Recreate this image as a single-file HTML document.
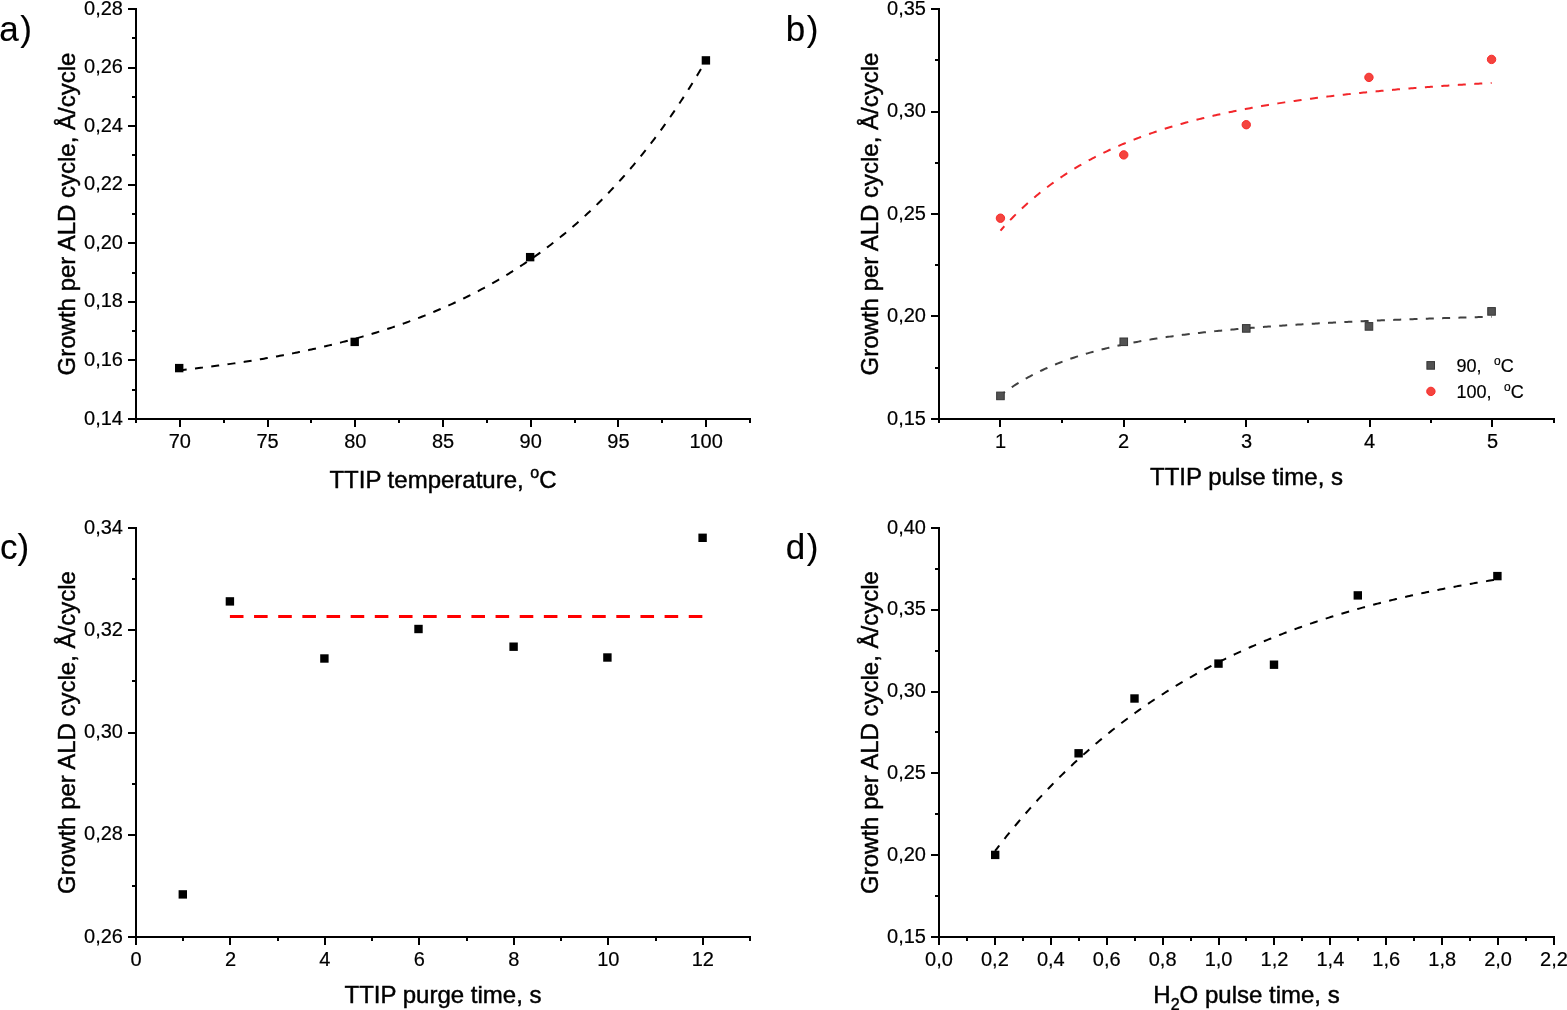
<!DOCTYPE html>
<html><head><meta charset="utf-8"><title>Growth per ALD cycle</title>
<style>
html,body{margin:0;padding:0;background:#fff;}
body{width:1567px;height:1010px;overflow:hidden;}
svg{display:block;}
text{font-family:'Liberation Sans', Arial, Helvetica, sans-serif;fill:#000;stroke:#000;stroke-width:0.2px;}
.tk{font-size:20px;}
.tt{font-size:24px;stroke-width:0.45px;}
.lg{font-size:18px;}
.pl{font-size:35px;stroke-width:0.15px;}
</style></head><body>
<svg width="1567" height="1010" viewBox="0 0 1567 1010">
<rect width="1567" height="1010" fill="#fff"/>
<path d="M136 8V420M135 419H751M128 419H136M128 360H136M128 302H136M128 243H136M128 185H136M128 126H136M128 68H136M128 9H136M132 390H136M132 331H136M132 273H136M132 214H136M132 155H136M132 97H136M132 38H136M180 419V427M268 419V427M355 419V427M443 419V427M531 419V427M618 419V427M706 419V427M136 419V423M224 419V423M311 419V423M399 419V423M487 419V423M575 419V423M662 419V423M750 419V423" stroke="#000" stroke-width="2" fill="none" shape-rendering="crispEdges"/>
<text x="123.00" y="424.60" text-anchor="end" class="tk">0,14</text>
<text x="123.00" y="366.03" text-anchor="end" class="tk">0,16</text>
<text x="123.00" y="307.46" text-anchor="end" class="tk">0,18</text>
<text x="123.00" y="248.89" text-anchor="end" class="tk">0,20</text>
<text x="123.00" y="190.31" text-anchor="end" class="tk">0,22</text>
<text x="123.00" y="131.74" text-anchor="end" class="tk">0,24</text>
<text x="123.00" y="73.17" text-anchor="end" class="tk">0,26</text>
<text x="123.00" y="14.60" text-anchor="end" class="tk">0,28</text>
<text x="179.86" y="447.80" text-anchor="middle" class="tk">70</text>
<text x="267.57" y="447.80" text-anchor="middle" class="tk">75</text>
<text x="355.29" y="447.80" text-anchor="middle" class="tk">80</text>
<text x="443.00" y="447.80" text-anchor="middle" class="tk">85</text>
<text x="530.71" y="447.80" text-anchor="middle" class="tk">90</text>
<text x="618.43" y="447.80" text-anchor="middle" class="tk">95</text>
<text x="706.14" y="447.80" text-anchor="middle" class="tk">100</text>
<text transform="translate(74.60 214.00) rotate(-90)" text-anchor="middle" class="tt">Growth per ALD cycle, Å/cycle</text>
<text x="443.00" y="487.7" text-anchor="middle" class="tt">TTIP temperature, <tspan font-size="16" dy="-10">o</tspan><tspan dy="10">C</tspan></text>
<polyline points="179.45,370.29 181.21,370.10 182.97,369.91 184.73,369.71 186.49,369.51 188.25,369.31 190.01,369.10 191.77,368.90 193.53,368.69 195.29,368.48 197.05,368.27 198.81,368.06 200.57,367.85 202.33,367.63 204.09,367.41 205.85,367.19 207.61,366.97 209.37,366.75 211.13,366.52 212.89,366.29 214.65,366.06 216.41,365.83 218.17,365.59 219.93,365.35 221.69,365.11 223.45,364.87 225.21,364.63 226.97,364.38 228.73,364.13 230.49,363.88 232.25,363.63 234.01,363.37 235.77,363.12 237.53,362.86 239.29,362.59 241.05,362.33 242.81,362.06 244.57,361.79 246.32,361.52 248.08,361.24 249.84,360.97 251.60,360.69 253.36,360.40 255.12,360.12 256.88,359.83 258.64,359.54 260.40,359.24 262.16,358.95 263.92,358.65 265.68,358.35 267.44,358.04 269.20,357.74 270.96,357.43 272.72,357.11 274.48,356.80 276.24,356.48 278.00,356.16 279.76,355.83 281.52,355.50 283.28,355.17 285.04,354.84 286.80,354.50 288.56,354.16 290.32,353.82 292.08,353.47 293.84,353.12 295.60,352.77 297.36,352.41 299.12,352.05 300.88,351.69 302.64,351.32 304.40,350.95 306.16,350.58 307.92,350.20 309.68,349.82 311.44,349.44 313.20,349.05 314.96,348.66 316.72,348.27 318.48,347.87 320.24,347.47 322.00,347.06 323.76,346.65 325.52,346.24 327.28,345.82 329.04,345.40 330.80,344.98 332.56,344.55 334.32,344.12 336.08,343.68 337.84,343.24 339.60,342.80 341.36,342.35 343.12,341.89 344.88,341.44 346.64,340.98 348.40,340.51 350.16,340.04 351.92,339.57 353.68,339.09 355.44,338.60 357.20,338.12 358.96,337.62 360.72,337.13 362.48,336.63 364.24,336.12 366.00,335.61 367.76,335.09 369.52,334.57 371.28,334.05 373.04,333.52 374.80,332.98 376.56,332.44 378.31,331.90 380.07,331.35 381.83,330.80 383.59,330.24 385.35,329.67 387.11,329.10 388.87,328.52 390.63,327.94 392.39,327.36 394.15,326.76 395.91,326.17 397.67,325.56 399.43,324.95 401.19,324.34 402.95,323.72 404.71,323.09 406.47,322.46 408.23,321.83 409.99,321.18 411.75,320.53 413.51,319.88 415.27,319.22 417.03,318.55 418.79,317.88 420.55,317.20 422.31,316.51 424.07,315.82 425.83,315.12 427.59,314.41 429.35,313.70 431.11,312.98 432.87,312.26 434.63,311.52 436.39,310.79 438.15,310.04 439.91,309.29 441.67,308.53 443.43,307.76 445.19,306.99 446.95,306.21 448.71,305.42 450.47,304.62 452.23,303.82 453.99,303.01 455.75,302.19 457.51,301.37 459.27,300.53 461.03,299.69 462.79,298.84 464.55,297.99 466.31,297.12 468.07,296.25 469.83,295.37 471.59,294.48 473.35,293.58 475.11,292.68 476.87,291.77 478.63,290.84 480.39,289.91 482.15,288.97 483.91,288.03 485.67,287.07 487.43,286.10 489.19,285.13 490.95,284.15 492.71,283.15 494.47,282.15 496.23,281.14 497.99,280.12 499.75,279.09 501.51,278.05 503.27,277.00 505.03,275.94 506.79,274.87 508.54,273.79 510.30,272.70 512.06,271.60 513.82,270.50 515.58,269.38 517.34,268.25 519.10,267.11 520.86,265.96 522.62,264.79 524.38,263.62 526.14,262.44 527.90,261.24 529.66,260.04 531.42,258.82 533.18,257.60 534.94,256.36 536.70,255.11 538.46,253.84 540.22,252.57 541.98,251.28 543.74,249.99 545.50,248.68 547.26,247.35 549.02,246.02 550.78,244.67 552.54,243.32 554.30,241.94 556.06,240.56 557.82,239.16 559.58,237.75 561.34,236.33 563.10,234.89 564.86,233.44 566.62,231.98 568.38,230.50 570.14,229.01 571.90,227.51 573.66,225.99 575.42,224.46 577.18,222.91 578.94,221.35 580.70,219.78 582.46,218.19 584.22,216.58 585.98,214.96 587.74,213.33 589.50,211.68 591.26,210.01 593.02,208.33 594.78,206.64 596.54,204.92 598.30,203.20 600.06,201.45 601.82,199.69 603.58,197.92 605.34,196.13 607.10,194.32 608.86,192.49 610.62,190.65 612.38,188.79 614.14,186.91 615.90,185.01 617.66,183.10 619.42,181.17 621.18,179.22 622.94,177.26 624.70,175.27 626.46,173.27 628.22,171.25 629.98,169.21 631.74,167.15 633.50,165.07 635.26,162.98 637.02,160.86 638.78,158.72 640.53,156.57 642.29,154.39 644.05,152.19 645.81,149.98 647.57,147.74 649.33,145.48 651.09,143.20 652.85,140.90 654.61,138.58 656.37,136.24 658.13,133.87 659.89,131.49 661.65,129.08 663.41,126.65 665.17,124.19 666.93,121.72 668.69,119.22 670.45,116.70 672.21,114.15 673.97,111.58 675.73,108.99 677.49,106.37 679.25,103.73 681.01,101.06 682.77,98.37 684.53,95.65 686.29,92.91 688.05,90.15 689.81,87.35 691.57,84.54 693.33,81.69 695.09,78.82 696.85,75.92 698.61,73.00 700.37,70.05 702.13,67.07 703.89,64.06 705.65,61.03" fill="none" stroke="#000" stroke-width="2.0" stroke-dasharray="8 8.38" stroke-dashoffset="0.74"/>
<rect x="175.00" y="363.90" width="8.4" height="8.4" fill="#000"/>
<rect x="350.50" y="337.70" width="8.4" height="8.4" fill="#000"/>
<rect x="525.95" y="252.95" width="8.4" height="8.4" fill="#000"/>
<rect x="701.70" y="56.20" width="8.4" height="8.4" fill="#000"/>
<text x="-0.7" y="40.5" class="pl">a<tspan dx="1.5">)</tspan></text>
<path d="M939 8V420M938 419H1555M931 419H939M931 316H939M931 214H939M931 112H939M931 9H939M935 368H939M935 265H939M935 163H939M935 60H939M1000 419V427M1124 419V427M1246 419V427M1370 419V427M1492 419V427M939 419V423M1062 419V423M1185 419V423M1308 419V423M1431 419V423M1554 419V423" stroke="#000" stroke-width="2" fill="none" shape-rendering="crispEdges"/>
<text x="926.00" y="424.60" text-anchor="end" class="tk">0,15</text>
<text x="926.00" y="322.10" text-anchor="end" class="tk">0,20</text>
<text x="926.00" y="219.60" text-anchor="end" class="tk">0,25</text>
<text x="926.00" y="117.10" text-anchor="end" class="tk">0,30</text>
<text x="926.00" y="14.60" text-anchor="end" class="tk">0,35</text>
<text x="1000.50" y="447.80" text-anchor="middle" class="tk">1</text>
<text x="1123.50" y="447.80" text-anchor="middle" class="tk">2</text>
<text x="1246.50" y="447.80" text-anchor="middle" class="tk">3</text>
<text x="1369.50" y="447.80" text-anchor="middle" class="tk">4</text>
<text x="1492.50" y="447.80" text-anchor="middle" class="tk">5</text>
<text transform="translate(877.60 214.00) rotate(-90)" text-anchor="middle" class="tt">Growth per ALD cycle, Å/cycle</text>
<text x="1246.50" y="484.8" text-anchor="middle" class="tt">TTIP pulse time, s</text>
<polyline points="1000.50,395.25 1002.14,394.01 1003.78,392.80 1005.43,391.61 1007.07,390.45 1008.71,389.30 1010.35,388.18 1012.00,387.08 1013.64,386.01 1015.28,384.95 1016.92,383.91 1018.57,382.89 1020.21,381.89 1021.85,380.91 1023.49,379.95 1025.14,379.01 1026.78,378.08 1028.42,377.18 1030.06,376.28 1031.71,375.41 1033.35,374.55 1034.99,373.71 1036.63,372.88 1038.28,372.07 1039.92,371.27 1041.56,370.49 1043.20,369.72 1044.85,368.96 1046.49,368.22 1048.13,367.49 1049.77,366.78 1051.42,366.07 1053.06,365.38 1054.70,364.71 1056.34,364.04 1057.99,363.39 1059.63,362.74 1061.27,362.11 1062.91,361.49 1064.56,360.88 1066.20,360.28 1067.84,359.69 1069.48,359.11 1071.13,358.54 1072.77,357.98 1074.41,357.43 1076.05,356.89 1077.70,356.36 1079.34,355.83 1080.98,355.32 1082.62,354.81 1084.27,354.32 1085.91,353.83 1087.55,353.34 1089.19,352.87 1090.84,352.40 1092.48,351.95 1094.12,351.49 1095.76,351.05 1097.41,350.61 1099.05,350.18 1100.69,349.76 1102.33,349.34 1103.98,348.93 1105.62,348.53 1107.26,348.13 1108.90,347.74 1110.55,347.35 1112.19,346.97 1113.83,346.60 1115.47,346.23 1117.12,345.87 1118.76,345.51 1120.40,345.16 1122.04,344.81 1123.69,344.47 1125.33,344.13 1126.97,343.80 1128.61,343.47 1130.26,343.15 1131.90,342.83 1133.54,342.52 1135.18,342.21 1136.83,341.91 1138.47,341.61 1140.11,341.31 1141.75,341.02 1143.40,340.73 1145.04,340.45 1146.68,340.17 1148.32,339.89 1149.97,339.62 1151.61,339.35 1153.25,339.08 1154.89,338.82 1156.54,338.56 1158.18,338.31 1159.82,338.06 1161.46,337.81 1163.11,337.57 1164.75,337.32 1166.39,337.09 1168.03,336.85 1169.67,336.62 1171.32,336.39 1172.96,336.16 1174.60,335.94 1176.24,335.72 1177.89,335.50 1179.53,335.28 1181.17,335.07 1182.81,334.86 1184.46,334.65 1186.10,334.44 1187.74,334.24 1189.38,334.04 1191.03,333.84 1192.67,333.65 1194.31,333.45 1195.95,333.26 1197.60,333.07 1199.24,332.89 1200.88,332.70 1202.52,332.52 1204.17,332.34 1205.81,332.16 1207.45,331.98 1209.09,331.81 1210.74,331.64 1212.38,331.47 1214.02,331.30 1215.66,331.13 1217.31,330.97 1218.95,330.80 1220.59,330.64 1222.23,330.48 1223.88,330.32 1225.52,330.17 1227.16,330.01 1228.80,329.86 1230.45,329.71 1232.09,329.56 1233.73,329.41 1235.37,329.26 1237.02,329.12 1238.66,328.97 1240.30,328.83 1241.94,328.69 1243.59,328.55 1245.23,328.41 1246.87,328.28 1248.51,328.14 1250.16,328.01 1251.80,327.87 1253.44,327.74 1255.08,327.61 1256.73,327.48 1258.37,327.35 1260.01,327.23 1261.65,327.10 1263.30,326.98 1264.94,326.86 1266.58,326.73 1268.22,326.61 1269.87,326.49 1271.51,326.38 1273.15,326.26 1274.79,326.14 1276.44,326.03 1278.08,325.91 1279.72,325.80 1281.36,325.69 1283.01,325.58 1284.65,325.47 1286.29,325.36 1287.93,325.25 1289.58,325.14 1291.22,325.04 1292.86,324.93 1294.50,324.83 1296.15,324.72 1297.79,324.62 1299.43,324.52 1301.07,324.42 1302.72,324.32 1304.36,324.22 1306.00,324.12 1307.64,324.02 1309.29,323.93 1310.93,323.83 1312.57,323.74 1314.21,323.64 1315.86,323.55 1317.50,323.46 1319.14,323.36 1320.78,323.27 1322.43,323.18 1324.07,323.09 1325.71,323.00 1327.35,322.92 1328.99,322.83 1330.64,322.74 1332.28,322.66 1333.92,322.57 1335.56,322.49 1337.21,322.40 1338.85,322.32 1340.49,322.24 1342.13,322.15 1343.78,322.07 1345.42,321.99 1347.06,321.91 1348.70,321.83 1350.35,321.75 1351.99,321.67 1353.63,321.60 1355.27,321.52 1356.92,321.44 1358.56,321.37 1360.20,321.29 1361.84,321.22 1363.49,321.14 1365.13,321.07 1366.77,321.00 1368.41,320.92 1370.06,320.85 1371.70,320.78 1373.34,320.71 1374.98,320.64 1376.63,320.57 1378.27,320.50 1379.91,320.43 1381.55,320.36 1383.20,320.30 1384.84,320.23 1386.48,320.16 1388.12,320.10 1389.77,320.03 1391.41,319.96 1393.05,319.90 1394.69,319.84 1396.34,319.77 1397.98,319.71 1399.62,319.65 1401.26,319.58 1402.91,319.52 1404.55,319.46 1406.19,319.40 1407.83,319.34 1409.48,319.28 1411.12,319.22 1412.76,319.16 1414.40,319.10 1416.05,319.04 1417.69,318.98 1419.33,318.92 1420.97,318.87 1422.62,318.81 1424.26,318.75 1425.90,318.70 1427.54,318.64 1429.19,318.59 1430.83,318.53 1432.47,318.48 1434.11,318.42 1435.76,318.37 1437.40,318.32 1439.04,318.26 1440.68,318.21 1442.33,318.16 1443.97,318.11 1445.61,318.05 1447.25,318.00 1448.90,317.95 1450.54,317.90 1452.18,317.85 1453.82,317.80 1455.47,317.75 1457.11,317.70 1458.75,317.65 1460.39,317.60 1462.04,317.56 1463.68,317.51 1465.32,317.46 1466.96,317.41 1468.61,317.37 1470.25,317.32 1471.89,317.27 1473.53,317.23 1475.18,317.18 1476.82,317.14 1478.46,317.09 1480.10,317.05 1481.75,317.00 1483.39,316.96 1485.03,316.92 1486.67,316.87 1488.32,316.83 1489.96,316.79 1491.60,316.74" fill="none" stroke="#404040" stroke-width="2.0" stroke-dasharray="8 8.31" stroke-dashoffset="2.44"/>
<polyline points="1000.50,230.56 1002.14,228.72 1003.78,226.90 1005.43,225.11 1007.07,223.34 1008.71,221.60 1010.35,219.89 1012.00,218.20 1013.64,216.53 1015.28,214.89 1016.92,213.27 1018.57,211.68 1020.21,210.10 1021.85,208.55 1023.49,207.02 1025.14,205.51 1026.78,204.02 1028.42,202.56 1030.06,201.11 1031.71,199.69 1033.35,198.28 1034.99,196.89 1036.63,195.52 1038.28,194.17 1039.92,192.84 1041.56,191.53 1043.20,190.24 1044.85,188.96 1046.49,187.70 1048.13,186.46 1049.77,185.23 1051.42,184.02 1053.06,182.83 1054.70,181.65 1056.34,180.49 1057.99,179.34 1059.63,178.21 1061.27,177.09 1062.91,175.99 1064.56,174.90 1066.20,173.83 1067.84,172.77 1069.48,171.73 1071.13,170.69 1072.77,169.68 1074.41,168.67 1076.05,167.68 1077.70,166.70 1079.34,165.73 1080.98,164.78 1082.62,163.84 1084.27,162.91 1085.91,161.99 1087.55,161.08 1089.19,160.19 1090.84,159.30 1092.48,158.43 1094.12,157.57 1095.76,156.72 1097.41,155.88 1099.05,155.05 1100.69,154.23 1102.33,153.42 1103.98,152.62 1105.62,151.83 1107.26,151.05 1108.90,150.27 1110.55,149.51 1112.19,148.76 1113.83,148.02 1115.47,147.28 1117.12,146.56 1118.76,145.84 1120.40,145.13 1122.04,144.43 1123.69,143.74 1125.33,143.06 1126.97,142.38 1128.61,141.71 1130.26,141.06 1131.90,140.40 1133.54,139.76 1135.18,139.12 1136.83,138.49 1138.47,137.87 1140.11,137.26 1141.75,136.65 1143.40,136.05 1145.04,135.45 1146.68,134.87 1148.32,134.28 1149.97,133.71 1151.61,133.14 1153.25,132.58 1154.89,132.03 1156.54,131.48 1158.18,130.94 1159.82,130.40 1161.46,129.87 1163.11,129.34 1164.75,128.82 1166.39,128.31 1168.03,127.80 1169.67,127.30 1171.32,126.80 1172.96,126.31 1174.60,125.83 1176.24,125.35 1177.89,124.87 1179.53,124.40 1181.17,123.93 1182.81,123.47 1184.46,123.02 1186.10,122.57 1187.74,122.12 1189.38,121.68 1191.03,121.24 1192.67,120.81 1194.31,120.38 1195.95,119.96 1197.60,119.54 1199.24,119.13 1200.88,118.72 1202.52,118.31 1204.17,117.91 1205.81,117.51 1207.45,117.12 1209.09,116.73 1210.74,116.34 1212.38,115.96 1214.02,115.58 1215.66,115.21 1217.31,114.84 1218.95,114.47 1220.59,114.11 1222.23,113.75 1223.88,113.39 1225.52,113.04 1227.16,112.69 1228.80,112.35 1230.45,112.00 1232.09,111.66 1233.73,111.33 1235.37,111.00 1237.02,110.67 1238.66,110.34 1240.30,110.02 1241.94,109.70 1243.59,109.38 1245.23,109.07 1246.87,108.76 1248.51,108.45 1250.16,108.15 1251.80,107.85 1253.44,107.55 1255.08,107.25 1256.73,106.96 1258.37,106.67 1260.01,106.38 1261.65,106.09 1263.30,105.81 1264.94,105.53 1266.58,105.25 1268.22,104.98 1269.87,104.71 1271.51,104.44 1273.15,104.17 1274.79,103.91 1276.44,103.64 1278.08,103.38 1279.72,103.13 1281.36,102.87 1283.01,102.62 1284.65,102.37 1286.29,102.12 1287.93,101.87 1289.58,101.63 1291.22,101.39 1292.86,101.15 1294.50,100.91 1296.15,100.67 1297.79,100.44 1299.43,100.21 1301.07,99.98 1302.72,99.75 1304.36,99.53 1306.00,99.30 1307.64,99.08 1309.29,98.86 1310.93,98.64 1312.57,98.43 1314.21,98.21 1315.86,98.00 1317.50,97.79 1319.14,97.58 1320.78,97.38 1322.43,97.17 1324.07,96.97 1325.71,96.77 1327.35,96.57 1328.99,96.37 1330.64,96.17 1332.28,95.98 1333.92,95.79 1335.56,95.59 1337.21,95.40 1338.85,95.22 1340.49,95.03 1342.13,94.84 1343.78,94.66 1345.42,94.48 1347.06,94.30 1348.70,94.12 1350.35,93.94 1351.99,93.77 1353.63,93.59 1355.27,93.42 1356.92,93.25 1358.56,93.08 1360.20,92.91 1361.84,92.74 1363.49,92.57 1365.13,92.41 1366.77,92.24 1368.41,92.08 1370.06,91.92 1371.70,91.76 1373.34,91.60 1374.98,91.45 1376.63,91.29 1378.27,91.13 1379.91,90.98 1381.55,90.83 1383.20,90.68 1384.84,90.53 1386.48,90.38 1388.12,90.23 1389.77,90.09 1391.41,89.94 1393.05,89.80 1394.69,89.65 1396.34,89.51 1397.98,89.37 1399.62,89.23 1401.26,89.09 1402.91,88.96 1404.55,88.82 1406.19,88.69 1407.83,88.55 1409.48,88.42 1411.12,88.29 1412.76,88.16 1414.40,88.03 1416.05,87.90 1417.69,87.77 1419.33,87.64 1420.97,87.52 1422.62,87.39 1424.26,87.27 1425.90,87.14 1427.54,87.02 1429.19,86.90 1430.83,86.78 1432.47,86.66 1434.11,86.54 1435.76,86.42 1437.40,86.31 1439.04,86.19 1440.68,86.08 1442.33,85.96 1443.97,85.85 1445.61,85.74 1447.25,85.63 1448.90,85.52 1450.54,85.41 1452.18,85.30 1453.82,85.19 1455.47,85.08 1457.11,84.97 1458.75,84.87 1460.39,84.76 1462.04,84.66 1463.68,84.56 1465.32,84.45 1466.96,84.35 1468.61,84.25 1470.25,84.15 1471.89,84.05 1473.53,83.95 1475.18,83.85 1476.82,83.76 1478.46,83.66 1480.10,83.56 1481.75,83.47 1483.39,83.37 1485.03,83.28 1486.67,83.19 1488.32,83.09 1489.96,83.00 1491.60,82.91" fill="none" stroke="#f2262a" stroke-width="2.0" stroke-dasharray="8 8.5" stroke-dashoffset="2.25"/>
<rect x="996.65" y="392.10" width="7.6" height="7.6" fill="#525252" stroke="#363636" stroke-width="1"/>
<rect x="1119.95" y="338.00" width="7.6" height="7.6" fill="#525252" stroke="#363636" stroke-width="1"/>
<rect x="1242.45" y="324.60" width="7.6" height="7.6" fill="#525252" stroke="#363636" stroke-width="1"/>
<rect x="1365.15" y="322.60" width="7.6" height="7.6" fill="#525252" stroke="#363636" stroke-width="1"/>
<rect x="1487.75" y="307.60" width="7.6" height="7.6" fill="#525252" stroke="#363636" stroke-width="1"/>
<circle cx="1000.45" cy="218.20" r="4.2" fill="#f4443e" stroke="#f82a2a" stroke-width="1"/>
<circle cx="1123.75" cy="154.90" r="4.2" fill="#f4443e" stroke="#f82a2a" stroke-width="1"/>
<circle cx="1246.25" cy="124.70" r="4.2" fill="#f4443e" stroke="#f82a2a" stroke-width="1"/>
<circle cx="1368.95" cy="77.40" r="4.2" fill="#f4443e" stroke="#f82a2a" stroke-width="1"/>
<circle cx="1491.55" cy="59.40" r="4.2" fill="#f4443e" stroke="#f82a2a" stroke-width="1"/>
<rect x="1426.90" y="361.60" width="7.6" height="7.6" fill="#525252" stroke="#363636" stroke-width="1"/>
<circle cx="1430.90" cy="391.40" r="4.2" fill="#f4443e" stroke="#f82a2a" stroke-width="1"/>
<text x="1456.5" y="372" class="lg">90, <tspan font-size="12" dx="7.5" dy="-7">o</tspan><tspan dy="7">C</tspan></text>
<text x="1456.5" y="398" class="lg">100, <tspan font-size="12" dx="7.5" dy="-7">o</tspan><tspan dy="7">C</tspan></text>
<text x="785.7" y="40.5" class="pl">b<tspan dx="1.5">)</tspan></text>
<path d="M136 527V938M135 937H751M128 937H136M128 835H136M128 733H136M128 630H136M128 528H136M132 886H136M132 784H136M132 681H136M132 579H136M136 937V945M230 937V945M325 937V945M419 937V945M514 937V945M608 937V945M703 937V945M183 937V941M278 937V941M372 937V941M467 937V941M561 937V941M656 937V941M750 937V941" stroke="#000" stroke-width="2" fill="none" shape-rendering="crispEdges"/>
<text x="123.00" y="942.60" text-anchor="end" class="tk">0,26</text>
<text x="123.00" y="840.35" text-anchor="end" class="tk">0,28</text>
<text x="123.00" y="738.10" text-anchor="end" class="tk">0,30</text>
<text x="123.00" y="635.85" text-anchor="end" class="tk">0,32</text>
<text x="123.00" y="533.60" text-anchor="end" class="tk">0,34</text>
<text x="136.00" y="965.80" text-anchor="middle" class="tk">0</text>
<text x="230.46" y="965.80" text-anchor="middle" class="tk">2</text>
<text x="324.92" y="965.80" text-anchor="middle" class="tk">4</text>
<text x="419.38" y="965.80" text-anchor="middle" class="tk">6</text>
<text x="513.85" y="965.80" text-anchor="middle" class="tk">8</text>
<text x="608.31" y="965.80" text-anchor="middle" class="tk">10</text>
<text x="702.77" y="965.80" text-anchor="middle" class="tk">12</text>
<text transform="translate(74.60 732.50) rotate(-90)" text-anchor="middle" class="tt">Growth per ALD cycle, Å/cycle</text>
<text x="443.00" y="1003" text-anchor="middle" class="tt">TTIP purge time, s</text>
<line x1="229.9" y1="616.4" x2="702.4" y2="616.4" stroke="#ff0000" stroke-width="3" stroke-dasharray="13.6 10.55"/>
<rect x="178.60" y="890.20" width="8.4" height="8.4" fill="#000"/>
<rect x="225.70" y="597.20" width="8.4" height="8.4" fill="#000"/>
<rect x="320.20" y="654.30" width="8.4" height="8.4" fill="#000"/>
<rect x="414.30" y="624.80" width="8.4" height="8.4" fill="#000"/>
<rect x="509.40" y="642.50" width="8.4" height="8.4" fill="#000"/>
<rect x="603.20" y="653.30" width="8.4" height="8.4" fill="#000"/>
<rect x="698.40" y="533.60" width="8.4" height="8.4" fill="#000"/>
<text x="0" y="559.3" class="pl">c)</text>
<path d="M939 527V938M938 937H1555M931 937H939M931 855H939M931 773H939M931 692H939M931 610H939M931 528H939M935 896H939M935 814H939M935 732H939M935 651H939M935 569H939M939 937V945M995 937V945M1051 937V945M1107 937V945M1163 937V945M1219 937V945M1274 937V945M1330 937V945M1386 937V945M1442 937V945M1498 937V945M1554 937V945M967 937V941M1023 937V941M1079 937V941M1135 937V941M1191 937V941M1246 937V941M1302 937V941M1358 937V941M1414 937V941M1470 937V941M1526 937V941" stroke="#000" stroke-width="2" fill="none" shape-rendering="crispEdges"/>
<text x="926.00" y="942.60" text-anchor="end" class="tk">0,15</text>
<text x="926.00" y="860.80" text-anchor="end" class="tk">0,20</text>
<text x="926.00" y="779.00" text-anchor="end" class="tk">0,25</text>
<text x="926.00" y="697.20" text-anchor="end" class="tk">0,30</text>
<text x="926.00" y="615.40" text-anchor="end" class="tk">0,35</text>
<text x="926.00" y="533.60" text-anchor="end" class="tk">0,40</text>
<text x="939.00" y="965.80" text-anchor="middle" class="tk">0,0</text>
<text x="994.91" y="965.80" text-anchor="middle" class="tk">0,2</text>
<text x="1050.82" y="965.80" text-anchor="middle" class="tk">0,4</text>
<text x="1106.73" y="965.80" text-anchor="middle" class="tk">0,6</text>
<text x="1162.64" y="965.80" text-anchor="middle" class="tk">0,8</text>
<text x="1218.55" y="965.80" text-anchor="middle" class="tk">1,0</text>
<text x="1274.45" y="965.80" text-anchor="middle" class="tk">1,2</text>
<text x="1330.36" y="965.80" text-anchor="middle" class="tk">1,4</text>
<text x="1386.27" y="965.80" text-anchor="middle" class="tk">1,6</text>
<text x="1442.18" y="965.80" text-anchor="middle" class="tk">1,8</text>
<text x="1498.09" y="965.80" text-anchor="middle" class="tk">2,0</text>
<text x="1554.00" y="965.80" text-anchor="middle" class="tk">2,2</text>
<text transform="translate(877.60 732.50) rotate(-90)" text-anchor="middle" class="tt">Growth per ALD cycle, Å/cycle</text>
<text x="1246.50" y="1002.9" text-anchor="middle" class="tt">H<tspan font-size="16" dy="7.5">2</tspan><tspan dy="-7.5">O pulse time, s</tspan></text>
<polyline points="995.05,850.97 996.73,848.79 998.41,846.62 1000.08,844.46 1001.76,842.32 1003.44,840.20 1005.12,838.09 1006.80,835.99 1008.47,833.91 1010.15,831.85 1011.83,829.80 1013.51,827.76 1015.19,825.74 1016.86,823.74 1018.54,821.74 1020.22,819.76 1021.90,817.80 1023.58,815.85 1025.25,813.91 1026.93,811.99 1028.61,810.08 1030.29,808.18 1031.97,806.30 1033.64,804.43 1035.32,802.58 1037.00,800.74 1038.68,798.91 1040.35,797.09 1042.03,795.29 1043.71,793.50 1045.39,791.72 1047.07,789.95 1048.74,788.20 1050.42,786.46 1052.10,784.73 1053.78,783.01 1055.46,781.31 1057.13,779.62 1058.81,777.94 1060.49,776.27 1062.17,774.62 1063.85,772.97 1065.52,771.34 1067.20,769.72 1068.88,768.11 1070.56,766.51 1072.24,764.93 1073.91,763.35 1075.59,761.79 1077.27,760.23 1078.95,758.69 1080.63,757.16 1082.30,755.64 1083.98,754.13 1085.66,752.63 1087.34,751.14 1089.02,749.67 1090.69,748.20 1092.37,746.74 1094.05,745.30 1095.73,743.86 1097.41,742.43 1099.08,741.02 1100.76,739.61 1102.44,738.22 1104.12,736.83 1105.80,735.45 1107.47,734.09 1109.15,732.73 1110.83,731.38 1112.51,730.05 1114.19,728.72 1115.86,727.40 1117.54,726.09 1119.22,724.79 1120.90,723.50 1122.57,722.22 1124.25,720.95 1125.93,719.68 1127.61,718.43 1129.29,717.18 1130.96,715.95 1132.64,714.72 1134.32,713.50 1136.00,712.29 1137.68,711.09 1139.35,709.89 1141.03,708.71 1142.71,707.53 1144.39,706.36 1146.07,705.20 1147.74,704.05 1149.42,702.91 1151.10,701.77 1152.78,700.65 1154.46,699.53 1156.13,698.42 1157.81,697.31 1159.49,696.22 1161.17,695.13 1162.85,694.05 1164.52,692.98 1166.20,691.91 1167.88,690.85 1169.56,689.80 1171.24,688.76 1172.91,687.73 1174.59,686.70 1176.27,685.68 1177.95,684.67 1179.63,683.66 1181.30,682.66 1182.98,681.67 1184.66,680.68 1186.34,679.71 1188.02,678.74 1189.69,677.77 1191.37,676.82 1193.05,675.86 1194.73,674.92 1196.41,673.98 1198.08,673.05 1199.76,672.13 1201.44,671.21 1203.12,670.30 1204.79,669.40 1206.47,668.50 1208.15,667.61 1209.83,666.73 1211.51,665.85 1213.18,664.97 1214.86,664.11 1216.54,663.25 1218.22,662.39 1219.90,661.55 1221.57,660.70 1223.25,659.87 1224.93,659.04 1226.61,658.21 1228.29,657.40 1229.96,656.58 1231.64,655.78 1233.32,654.98 1235.00,654.18 1236.68,653.39 1238.35,652.61 1240.03,651.83 1241.71,651.05 1243.39,650.29 1245.07,649.53 1246.74,648.77 1248.42,648.02 1250.10,647.27 1251.78,646.53 1253.46,645.80 1255.13,645.06 1256.81,644.34 1258.49,643.62 1260.17,642.91 1261.85,642.20 1263.52,641.49 1265.20,640.79 1266.88,640.10 1268.56,639.41 1270.24,638.72 1271.91,638.04 1273.59,637.37 1275.27,636.70 1276.95,636.03 1278.63,635.37 1280.30,634.71 1281.98,634.06 1283.66,633.41 1285.34,632.77 1287.02,632.13 1288.69,631.50 1290.37,630.87 1292.05,630.25 1293.73,629.63 1295.40,629.01 1297.08,628.40 1298.76,627.80 1300.44,627.19 1302.12,626.59 1303.79,626.00 1305.47,625.41 1307.15,624.83 1308.83,624.24 1310.51,623.67 1312.18,623.09 1313.86,622.52 1315.54,621.96 1317.22,621.40 1318.90,620.84 1320.57,620.29 1322.25,619.74 1323.93,619.19 1325.61,618.65 1327.29,618.11 1328.96,617.58 1330.64,617.05 1332.32,616.52 1334.00,616.00 1335.68,615.48 1337.35,614.97 1339.03,614.46 1340.71,613.95 1342.39,613.44 1344.07,612.94 1345.74,612.45 1347.42,611.95 1349.10,611.46 1350.78,610.98 1352.46,610.49 1354.13,610.01 1355.81,609.54 1357.49,609.06 1359.17,608.59 1360.85,608.13 1362.52,607.66 1364.20,607.20 1365.88,606.75 1367.56,606.30 1369.24,605.85 1370.91,605.40 1372.59,604.95 1374.27,604.51 1375.95,604.08 1377.62,603.64 1379.30,603.21 1380.98,602.78 1382.66,602.36 1384.34,601.94 1386.01,601.52 1387.69,601.10 1389.37,600.69 1391.05,600.28 1392.73,599.87 1394.40,599.47 1396.08,599.06 1397.76,598.67 1399.44,598.27 1401.12,597.88 1402.79,597.49 1404.47,597.10 1406.15,596.71 1407.83,596.33 1409.51,595.95 1411.18,595.58 1412.86,595.20 1414.54,594.83 1416.22,594.46 1417.90,594.10 1419.57,593.73 1421.25,593.37 1422.93,593.01 1424.61,592.66 1426.29,592.31 1427.96,591.95 1429.64,591.61 1431.32,591.26 1433.00,590.92 1434.68,590.58 1436.35,590.24 1438.03,589.90 1439.71,589.57 1441.39,589.24 1443.07,588.91 1444.74,588.58 1446.42,588.26 1448.10,587.94 1449.78,587.62 1451.46,587.30 1453.13,586.98 1454.81,586.67 1456.49,586.36 1458.17,586.05 1459.84,585.74 1461.52,585.44 1463.20,585.14 1464.88,584.84 1466.56,584.54 1468.23,584.24 1469.91,583.95 1471.59,583.66 1473.27,583.37 1474.95,583.08 1476.62,582.80 1478.30,582.51 1479.98,582.23 1481.66,581.95 1483.34,581.68 1485.01,581.40 1486.69,581.13 1488.37,580.86 1490.05,580.59 1491.73,580.32 1493.40,580.05 1495.08,579.79 1496.76,579.53" fill="none" stroke="#000" stroke-width="2.0" stroke-dasharray="8 8.48" stroke-dashoffset="1.09"/>
<rect x="991.00" y="850.70" width="8.4" height="8.4" fill="#000"/>
<rect x="1074.40" y="749.10" width="8.4" height="8.4" fill="#000"/>
<rect x="1130.30" y="694.30" width="8.4" height="8.4" fill="#000"/>
<rect x="1214.30" y="659.40" width="8.4" height="8.4" fill="#000"/>
<rect x="1269.80" y="660.50" width="8.4" height="8.4" fill="#000"/>
<rect x="1353.60" y="591.20" width="8.4" height="8.4" fill="#000"/>
<rect x="1493.20" y="571.90" width="8.4" height="8.4" fill="#000"/>
<text x="785.7" y="559.3" class="pl">d<tspan dx="1.5">)</tspan></text>
</svg>
</body></html>
